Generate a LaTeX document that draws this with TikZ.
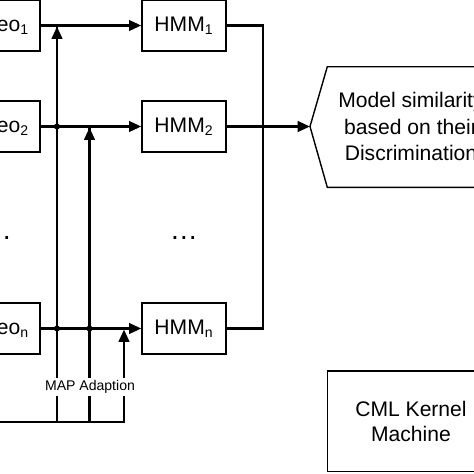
\documentclass[tikz,border=0pt]{standalone}
\usepackage{fontspec}
\setmainfont{Liberation Sans}
\usetikzlibrary{arrows.meta, calc}

\begin{document}
\begin{tikzpicture}[x=0.02cm, y=-0.02cm, font=\fontsize{12}{15.2}\selectfont,
  blk/.style={draw, line width=0.8pt, minimum width=1.68cm, minimum height=1.02cm, inner sep=0pt},
  wire/.style={line width=1.4pt},
  arr/.style={wire, -{Triangle[length=7pt, width=6pt]}},
  jdot/.style={circle, fill, inner sep=0pt, minimum size=3.5pt}]
  \useasboundingbox (0,0) rectangle (474,474);
  \clip (0,0) rectangle (474,474);
  % one video and one HMM per row
  \foreach \r/\y in {1/25.5, 2/126.5, n/328.5}{
    \node[blk] (v\r) at (-2,\y) {Video\textsubscript{\r}};
    \node[blk] (h\r) at (184,\y) {HMM\textsubscript{\r}};
    \draw[arr] (v\r) -- (h\r);
  }
  \node[font=\fontsize{16}{16}\selectfont] (vdots) at (-2,238) {\textellipsis};
  \node[font=\fontsize{16}{16}\selectfont] (hdots) at (184,238) {\textellipsis};
  % MAP adaption feed
  \coordinate (mapin) at (-10,422);
  \coordinate (m1) at (57,422);
  \coordinate (m2) at (89.5,422);
  \coordinate (m3) at (124,422);
  \draw[wire] (m1) -- (m1 |- v1.east);
  \draw[wire] (m2) -- (m2 |- v2.east);
  \draw[arr, shorten >=0.6pt] (m1 |- v2.east) -- (m1 |- v1.east);
  \draw[arr, shorten >=0.6pt] (m2 |- vn.east) -- (m2 |- v2.east);
  \draw[arr, shorten >=0.6pt] (mapin) -- (m3) -- (m3 |- vn.east);
  \node[jdot] (j1) at (m1 |- v2.east) {};
  \node[jdot] (j2) at (m1 |- vn.east) {};
  \node[jdot] (j3) at (m2 |- vn.east) {};
  \node[fill=white, inner sep=1.5pt, font=\fontsize{8}{10}\selectfont] (map) at (90,386.7) {MAP Adaption};
  % similarity block
  \coordinate (simtip) at (310,126.5);
  \draw[line width=0.8pt] (520,66.7) -- (327.3,66.7) -- (simtip) -- (327.3,187.3) -- (520,187.3);
  \node[align=center] (sim) at (411,126.7) {Model similarity\\based on their\\Discrimination};
  \coordinate (merge) at (263,126.5);
  \draw[wire] (h1.east) -| (merge) |- (hn.east);
  \draw[arr] (h2.east) -- (simtip);
  % kernel machine
  \node[blk, minimum width=3.35cm, minimum height=2.01cm, align=center,
        font=\fontsize{12}{14.2}\selectfont] (cml) at (411,421.3) {CML Kernel\\Machine};
\end{tikzpicture}
\end{document}
